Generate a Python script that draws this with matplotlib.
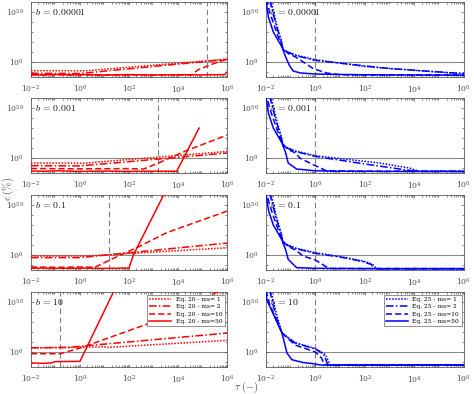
import numpy as np
import matplotlib
matplotlib.use('Agg')
import matplotlib.pyplot as plt
from matplotlib.ticker import LogLocator, FixedLocator, NullFormatter

plt.rcParams['font.family'] = 'serif'
plt.rcParams['font.serif'] = ['DejaVu Serif']
plt.rcParams['mathtext.fontset'] = 'cm'

# b values of the four rows and position of the dashed vertical line
b_labels = ['0.00001', '0.001', '0.1', '10']
red_vline = [1.57e5, 1.57e3, 15.7, 0.157]
blue_vline = [1.0, 1.0, 1.0, 1.0]

ms_labels = ['ms= 1', 'ms= 2', 'ms=10', 'ms=50']

# ---- Eq. 20 (red) : (log10 tau, log10 eps) ----
r1_ms1 = [(-2, -8.7), (0, -8.7), (0.1, -9.0), (6, 2.9)]
r1_ms2 = [(-2, -11.3), (0, -11.5), (6, 2.6)]
r1_ms10 = [(-2, -13.0), (-1, -12.8), (1, -13.1), (3, -12.9), (4.55, -13.0),
           (4.8, -8.0), (5.3, -3.0), (6, 3.0)]
r1_ms50 = [(-2, -12.6), (-1.5, -12.9), (-1, -12.4), (-0.5, -12.8), (0, -12.5),
           (1, -13.0), (2, -12.6), (3, -13.0), (4, -12.7), (5, -12.9),
           (5.9, -12.6), (6, -10.0)]

r2_ms1 = [(-2, -5.0), (0, -5.0), (0.1, -5.3), (6, 6.6)]
r2_ms2 = [(-2, -7.7), (0, -7.9), (6, 5.0)]
r2_ms10 = [(-2, -10.5), (0, -10.8), (2, -10.6), (2.6, -11.0), (3.2, -5.0),
           (4.2, 6.0), (6, 23.0)]
r2_ms50 = [(-2, -13.0), (-1.5, -13.3), (-1, -12.8), (0, -13.4), (1, -13.1),
           (2, -13.4), (3, -13.2), (3.95, -13.2), (4.86, 30.0)]

r3_ms1 = [(-2, -1.0), (0, -1.0), (0.1, -1.2), (6, 7.3)]
r3_ms2 = [(-2, -2.6), (0, -2.6), (6, 12.0)]
r3_ms10 = [(-2, -12.0), (-1, -12.3), (0, -12.0), (0.6, -12.3), (1.22, -5.0),
           (2.45, 9.0), (3.54, 22.4), (6, 44.0)]
r3_ms50 = [(-2, -13.3), (-1.5, -13.0), (-1, -13.4), (0, -13.1), (1, -13.4),
           (2.0, -13.0), (2.18, 0.0), (3.45, 62.0)]

r4_ms1 = [(-2, 4.0), (1.0, 5.2), (1.1, 4.6), (6, 11.7)]
r4_ms2 = [(-2, 4.3), (-0.5, 4.6), (6, 19.0)]
r4_ms10 = [(-2, -1.7), (-0.8, -1.7), (0.0, 4.0), (2.86, 29.0), (5.6, 60.0),
           (6, 66.0)]
r4_ms50 = [(-2, -11.0), (-1.5, -11.3), (-1.2, -11.0), (-1.0, -9.6), (-0.3, -9.4),
           (0.0, -9.3), (1.4, 62.0)]

# ---- Eq. 25 (blue) ----
b1_ms1 = [(-1.8, 62), (-1.55, 36), (-1.38, 22), (-1.3, 12), (-0.8, 7), (0, 2.3),
          (2, -4.5), (4.9, -10.0), (6, -11.6)]
b1_ms2 = [(-1.85, 62), (-1.6, 38), (-1.4, 22), (-1.3, 12), (-0.8, 6.5), (0, 1.6),
          (3.0, -6.6), (6, -11.6)]
b1_ms10 = [(-2, 66), (-1.85, 50), (-1.6, 32), (-1.35, 15), (-1.1, 8.5), (-0.8, 5),
           (-0.49, 0), (-0.09, -6.6), (0.45, -11), (1.0, -12.8), (3, -13.0),
           (6, -12.9)]
b1_ms50 = [(-2, 62), (-1.9, 45), (-1.7, 30), (-1.35, 15), (-1.2, 5), (-1.06, -3),
           (-0.9, -9), (-0.6, -11), (0, -12), (0.6, -12.3), (2, -12.8),
           (4, -13.0), (6, -13.2)]

b2_ms1 = [(-1.8, 62), (-1.55, 36), (-1.38, 22), (-1.3, 12), (-0.8, 7), (0, 2.3),
          (2.6, -5.0), (3.8, -10.0), (4.2, -13.4), (6, -13.4)]
b2_ms2 = [(-1.85, 62), (-1.6, 38), (-1.4, 22), (-1.3, 11.6), (-0.8, 6.5),
          (0, 1.6), (2.2, -6.7), (4.09, -13.4), (6, -13.4)]
b2_ms10 = [(-2, 66), (-1.85, 50), (-1.6, 32), (-1.35, 15), (-1.1, 8.5), (-0.8, 5),
           (-0.63, 0), (-0.09, -6.7), (0.45, -12.8), (2, -13.2), (6, -13.3)]
b2_ms50 = [(-2, 62), (-1.9, 45), (-1.7, 30), (-1.35, 15), (-1.2, 5), (-1.1, -5),
           (-0.76, -11), (0, -12.8), (1, -13.2), (3, -13.4), (6, -13.4)]

b3_ms1 = [(-1.8, 62), (-1.55, 36), (-1.38, 22), (-1.3, 12), (-0.8, 7), (0, 2.3),
          (1.0, -1.5), (1.93, -6), (2.3, -9), (2.47, -13.8), (6, -13.8)]
b3_ms2 = [(-1.85, 62), (-1.6, 38), (-1.4, 22), (-1.3, 11.6), (-0.8, 6.5),
          (0, 1.6), (1.0, -2.0), (1.9, -6.5), (2.25, -9.5), (2.4, -13.8),
          (6, -13.8)]
b3_ms10 = [(-2, 66), (-1.85, 50), (-1.6, 32), (-1.35, 15), (-1.1, 8.5), (-0.8, 5),
           (-0.5, -1), (0, -5), (0.45, -12), (0.6, -13.5), (6, -13.6)]
b3_ms50 = [(-2, 62), (-1.9, 45), (-1.7, 30), (-1.35, 15), (-1.2, 5), (-1.1, -4.3),
           (-0.76, -12.6), (0, -13.3), (2, -13.6), (6, -13.6)]

b4_ms1 = [(-1.8, 62), (-1.55, 36), (-1.35, 19), (-0.82, 9.5), (0.0, 3.5),
          (0.4, -2.5), (0.6, -13.0), (6, -13.0)]
b4_ms2 = [(-1.85, 62), (-1.6, 36), (-1.35, 19), (-0.82, 9.0), (0.0, 3.0),
          (0.33, -2.0), (0.5, -12.5), (0.55, -13.0), (6, -13.0)]
b4_ms10 = [(-2, 62), (-1.85, 48), (-1.35, 19), (-0.82, 7.0), (0.0, 0.0),
           (0.25, -6.0), (0.35, -12.0), (0.45, -13.0), (6, -13.0)]
b4_ms50 = [(-2, 62), (-1.96, 52), (-1.35, 19), (-1.15, -1), (-0.95, -7.7),
           (-0.5, -10.5), (-0.14, -11.5), (0.2, -13.0), (6, -13.0)]

red_rows = [[r1_ms1, r1_ms2, r1_ms10, r1_ms50],
            [r2_ms1, r2_ms2, r2_ms10, r2_ms50],
            [r3_ms1, r3_ms2, r3_ms10, r3_ms50],
            [r4_ms1, r4_ms2, r4_ms10, r4_ms50]]
blue_rows = [[b1_ms1, b1_ms2, b1_ms10, b1_ms50],
             [b2_ms1, b2_ms2, b2_ms10, b2_ms50],
             [b3_ms1, b3_ms2, b3_ms10, b3_ms50],
             [b4_ms1, b4_ms2, b4_ms10, b4_ms50]]

styles = [(0, (1, 1)), (0, (5, 1.5, 1, 1.5)), (0, (4, 2)), '-']

fig = plt.figure(figsize=(4.74, 3.94), dpi=100)

col_x = [0.0654, 0.561]
col_w = [0.4135, 0.4177]
row_y = [0.8046, 0.5609, 0.3147, 0.0685]
row_h = 0.190
box_col = '0.35'


def style_axis(ax):
    ax.set_xscale('log')
    ax.set_yscale('log')
    ax.set_xlim(1e-2, 1e6)
    ax.set_ylim(1e-15, 1e60)
    ax.set_xticks([1e-2, 1e0, 1e2, 1e4, 1e6])
    ax.set_yticks([1e0, 1e50])
    ax.xaxis.set_minor_locator(LogLocator(base=10, subs=np.arange(2, 10), numticks=100))
    ax.xaxis.set_minor_formatter(NullFormatter())
    ax.yaxis.set_minor_locator(FixedLocator([10.0 ** k for k in range(-10, 60, 10) if k not in (0, 50)]))
    ax.yaxis.set_minor_formatter(NullFormatter())
    ax.tick_params(which='both', direction='in', top=True, right=True,
                   colors=box_col, labelcolor='0.3', labelsize=5.5, width=0.5)
    ax.tick_params(which='major', length=2.5, pad=5)
    ax.tick_params(which='minor', length=1.3)
    for s in ax.spines.values():
        s.set_color(box_col)
        s.set_linewidth(0.6)


for i in range(4):
    for j, (rows, vl, color, eq) in enumerate([(red_rows, red_vline, 'red', '20'),
                                                (blue_rows, blue_vline, 'blue', '25')]):
        ax = fig.add_axes([col_x[j], row_y[i], col_w[j], row_h])
        style_axis(ax)
        ax.axhline(1.0, color='0.55', lw=0.8, zorder=1)
        ax.axvline(vl[i], color='0.5', lw=0.8, ls=(0, (5, 3)), zorder=1)
        for k, series in enumerate(rows[i]):
            pts = np.array(series, dtype=float)
            ax.plot(10.0 ** pts[:, 0], 10.0 ** pts[:, 1], color=color, lw=1.1,
                    ls=styles[k], label='Eq. %s - %s' % (eq, ms_labels[k]), zorder=3)
        ax.text(0.02, 0.865, r'$b\,=\,%s$' % b_labels[i], transform=ax.transAxes,
                fontsize=7, va='center', ha='left', color='0.1')
        if i == 3:
            leg = ax.legend(loc='upper right', fontsize=4.3, handlelength=3.6,
                            borderpad=0.4, labelspacing=0.35, fancybox=False,
                            framealpha=1, edgecolor='0.4', borderaxespad=0.4)
            leg.get_frame().set_linewidth(0.5)

fig.text(0.017, 0.52, r'$\epsilon\;(\%)$', rotation=90, fontsize=7.5,
         va='center', ha='center', color='0.25')
fig.text(0.52, 0.016, r'$\tau\;(-)$', fontsize=7.5, va='center', ha='center',
         color='0.25')

fig.savefig('out.png', dpi=100)
